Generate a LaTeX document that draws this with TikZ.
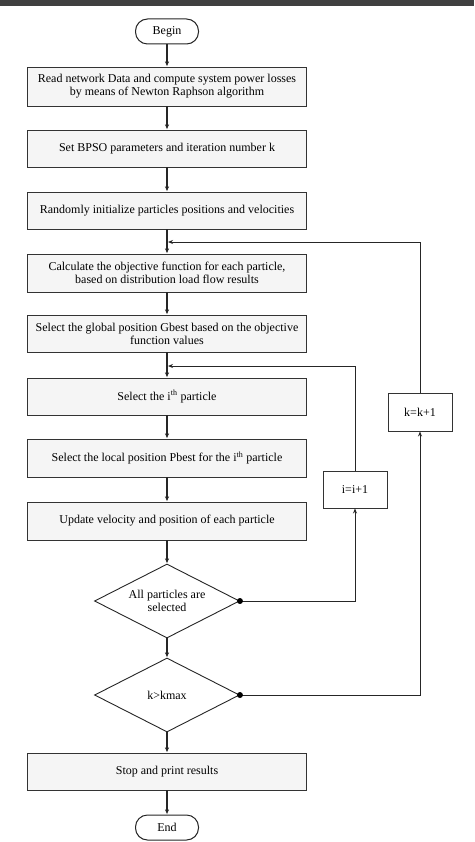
\documentclass[tikz,border=0pt]{standalone}
\usepackage{fontspec}
\setmainfont{Liberation Serif}
\usetikzlibrary{shapes.geometric,arrows.meta}
\begin{document}
\begin{tikzpicture}[x=1pt,y=-1pt,
  every node/.style={font=\fontsize{12}{13}\selectfont, text=black},
  proc/.style={draw=black!80, line width=0.9pt, fill=black!4, minimum width=279pt, minimum height=37pt, align=center, inner sep=2pt},
  term/.style={draw=black!85, line width=1pt, fill=white, rounded corners=12pt, minimum width=63pt, minimum height=25pt, inner sep=1pt},
  dec/.style={draw=black!85, line width=0.9pt, fill=white, diamond, aspect=1.96, minimum width=145pt, minimum height=74pt, inner sep=0pt, align=center},
  small/.style={draw=black!80, line width=0.9pt, fill=white, minimum width=64pt, minimum height=37pt, inner sep=1pt},
  main/.style={line width=1.5pt, draw=black!85, -{Latex[length=5pt,width=4.5pt]}},
  loop/.style={line width=0.9pt, draw=black!85, -{Stealth[length=5pt,width=4pt]}}]
\useasboundingbox (0,0) rectangle (474,842);
\fill[white] (0,0) rectangle (474,842);
\fill[black!75] (0,0) rectangle (474,6);
\node[term] (begin) at (167,31.5) {Begin};
\node[proc, minimum height=39pt] (b1) at (167,86.5) {Read network Data and compute system power losses\\by means of Newton Raphson algorithm};
\node[proc] (b2) at (167,148.5) {Set BPSO parameters and iteration number k};
\node[proc] (b3) at (167,210.5) {Randomly initialize particles positions and velocities};
\node[proc, minimum height=38pt] (b4) at (167,273) {Calculate the objective function for each particle,\\based on distribution load flow results};
\node[proc] (b5) at (167,333.5) {Select the global position Gbest based on the objective\\function values};
\node[proc] (b6) at (167,396.5) {Select the i\textsuperscript{th} particle};
\node[proc, minimum height=38pt] (b7) at (167,458) {Select the local position Pbest for the i\textsuperscript{th} particle};
\node[proc, minimum height=38pt] (b8) at (167,521) {Update velocity and position of each particle};
\node[dec] (d1) at (167,601) {All particles are\\selected};
\node[dec] (d2) at (167,695) {k>kmax};
\node[proc] (b9) at (167,771.5) {Stop and print results};
\node[term] (end) at (167,827.5) {End};
\node[small] (ii) at (355,489.5) {i=i+1};
\node[small, minimum height=38pt] (kk) at (420,412) {k=k+1};
\coordinate (ci) at (168,366);
\coordinate (ck) at (168,242);
\draw[main] (begin) -- (b1);
\draw[main] (b1) -- (b2);
\draw[main] (b2) -- (b3);
\draw[main] (b3) -- (b4);
\draw[main] (b4) -- (b5);
\draw[main] (b5) -- (b6);
\draw[main] (b6) -- (b7);
\draw[main] (b7) -- (b8);
\draw[main] (b8) -- (d1);
\draw[main] (d1) -- (d2);
\draw[main] (d2) -- (b9);
\draw[main] (b9) -- (end);
\draw[loop] (d1.east) -| (ii.south);
\draw[loop] (d2.east) -| (kk.south);
\draw[loop] (ii.north) |- (ci);
\draw[loop] (kk.north) |- (ck);
\fill[black] (d1.east) circle (3pt);
\fill[black] (d2.east) circle (3pt);
\end{tikzpicture}
\end{document}
